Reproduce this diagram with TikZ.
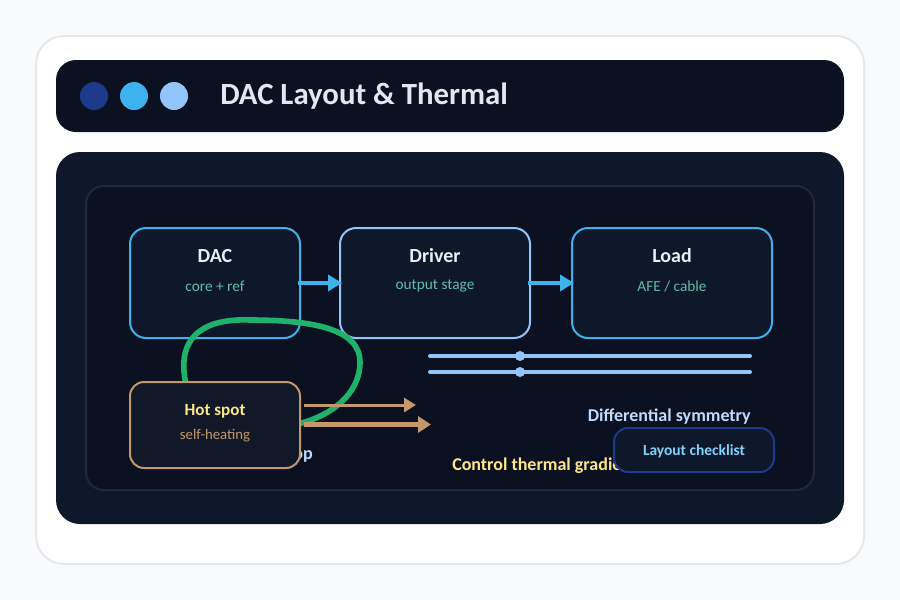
\documentclass[tikz,border=0pt]{standalone}
\usepackage{fontspec}
\setmainfont{Carlito}
\usetikzlibrary{arrows.meta}
\definecolor{pagebg}{HTML}{F8FAFC}
\definecolor{cardline}{HTML}{E5E7EB}
\definecolor{hdr}{HTML}{0B1120}
\definecolor{panelc}{HTML}{0F172A}
\definecolor{innerl}{HTML}{1E293B}
\definecolor{skyc}{HTML}{3EB2EC}
\definecolor{bluec}{HTML}{93C5FD}
\definecolor{navyc}{HTML}{1E3A8A}
\definecolor{tanc}{HTML}{C4986A}
\definecolor{greenc}{HTML}{1FB26B}
\definecolor{titlec}{HTML}{E2E8F0}
\definecolor{headc}{HTML}{E0F2F1}
\definecolor{subc}{HTML}{5EBFA8}
\definecolor{yelc}{HTML}{FDE68A}
\definecolor{hotfill}{HTML}{111827}
\definecolor{diffc}{HTML}{BFDBFE}
\definecolor{chkc}{HTML}{7DD3FC}
\tikzset{
  x=0.75pt,y=-0.75pt,
  blockbox/.style={draw,fill=panelc,line width=1.5pt,rounded corners=12pt,inner sep=0pt,
    minimum width=#1*0.75pt,minimum height=82.5pt},
  head/.style={text=headc,font=\fontsize{15}{18}\selectfont\bfseries,inner sep=0pt},
  sub/.style={text=subc,font=\fontsize{11.5}{14}\selectfont,inner sep=0pt},
  flow/.style={draw=skyc,line width=3pt,-{Triangle[length=10.5pt,width=12pt]}},
  rail/.style={draw=bluec,line width=3pt,line cap=round},
  dot/.style={circle,fill=#1,draw=none,inner sep=0pt,minimum size=21pt},
  knob/.style={circle,fill=bluec,draw=none,inner sep=0pt,minimum size=7.5pt},
  note/.style={inner sep=0pt,font=\fontsize{13.5}{16}\selectfont\bfseries},
}
\begin{document}
\begin{tikzpicture}
\useasboundingbox (0,0) rectangle (900,600);
\fill[pagebg] (0,0) rectangle (900,600);
\draw[fill=white,draw=cardline,line width=1.5pt,rounded corners=21pt] (36,36) rectangle (864,564);
\fill[hdr,rounded corners=15pt] (56,60) rectangle (844,132);
\node[dot=navyc] (d1) at (94,96) {};
\node[dot=skyc] (d2) at (134,96) {};
\node[dot=bluec] (d3) at (174,96) {};
\node[anchor=west,inner sep=0pt,text=titlec,font=\fontsize{23.1}{27}\selectfont\bfseries] (title) at (220,96.5) {DAC Layout \& Thermal};
\fill[panelc,rounded corners=18pt] (56,152) rectangle (844,524);
\draw[fill=hdr,draw=innerl,line width=1.5pt,rounded corners=13.5pt] (86,186) rectangle (814,490);
% texts partly covered by later shapes
\node[note,anchor=east,text=diffc] (loopt) at (313,456) {op};
\node[note,anchor=west,text=yelc] (grad) at (452,465.5) {Control thermal gradie};
\node[note,anchor=east,text=diffc] (diff) at (751,416.5) {Differential symmetry};
% blocks
\node[blockbox=170,draw=skyc] (dac) at (215,283) {};
\node[blockbox=190,draw=bluec] (drv) at (435,283) {};
\node[blockbox=200,draw=skyc] (load) at (672,283) {};
\node[head] (dact) at (215,256) {DAC};
\node[sub] (dacs) at (215,286) {core + ref};
\node[head] (drvt) at (435,256) {Driver};
\node[sub] (drvs) at (435,286) {output stage};
\node[head] (loadt) at (672,256) {Load};
\node[sub] (loads) at (672,286) {AFE / cable};
\draw[flow] ([xshift=-2.25pt]dac.east) -- ([xshift=2.25pt]drv.west);
\draw[flow] ([xshift=-2.25pt]drv.east) -- ([xshift=2.25pt]load.west);
% rails
\coordinate (r1a) at (430,356); \coordinate (r1b) at (750,356);
\coordinate (r2a) at (430,372); \coordinate (r2b) at (750,372);
\draw[rail] (r1a) -- (r1b);
\draw[rail] (r2a) -- (r2b);
\node[knob] (k1) at (520,356) {};
\node[knob] (k2) at (520,372) {};
% thermal loop
\coordinate (gs) at (186,384); \coordinate (ge) at (298,424);
\draw[greenc,line width=4.2pt] (gs) .. controls (176,340) and (200,318) .. (250,320)
  .. controls (310,320) and (360,328) .. (360,362)
  .. controls (360,395) and (330,416) .. (ge);
\coordinate (ha) at (304,405); \coordinate (hb) at (416,405);
\coordinate (hc) at (304,424.5); \coordinate (hd) at (431,424.5);
\draw[draw=tanc,line width=2.25pt,-{Triangle[length=9pt,width=10.5pt]}] (ha) -- (hb);
\draw[draw=tanc,line width=3.3pt,-{Triangle[length=9.75pt,width=12pt]}] (hc) -- (hd);
\node[draw=tanc,fill=hotfill,line width=1.5pt,rounded corners=10.5pt,inner sep=0pt,minimum width=127.5pt,minimum height=64.5pt] (hot) at (215,425) {};
\node[text=yelc,inner sep=0pt,font=\fontsize{12.8}{15}\selectfont\bfseries] (hott) at (215,411) {Hot spot};
\node[inner sep=0pt,text=tanc,font=\fontsize{11.1}{13}\selectfont] (hots) at (215,436) {self-heating};
% checklist
\node[draw=navyc,fill=panelc,line width=1.5pt,rounded corners=10.5pt,inner sep=0pt,minimum width=120pt,minimum height=33pt] (chk) at (694,450) {};
\node[inner sep=0pt,text=chkc,font=\fontsize{11.6}{14}\selectfont\bfseries] (chkt) at (694,451.5) {Layout checklist};
\end{tikzpicture}
\end{document}
